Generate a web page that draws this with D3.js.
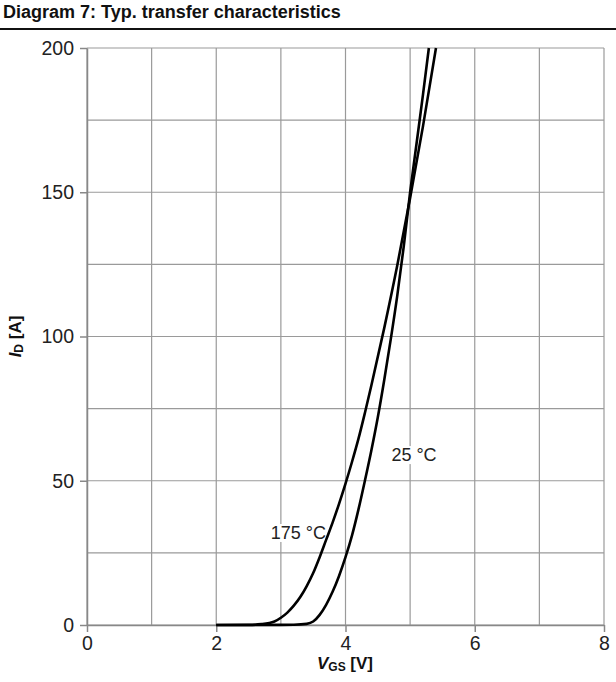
<!DOCTYPE html>
<html>
<head>
<meta charset="utf-8">
<script src="https://cdn.jsdelivr.net/npm/d3@7"></script>
<style>
body { margin: 0; background: #fff; font-family: "Liberation Sans", Arial, sans-serif; }
</style>
</head>
<body>
<script>
// curve values
var vgs25 = [2, 3.0, 3.2, 3.4, 3.5, 3.6, 3.7, 3.8, 3.9, 4.0, 4.1, 4.2, 4.3, 4.4, 4.5, 4.6, 4.7, 4.8, 4.9, 5.0, 5.1, 5.2, 5.29];
var id25 = [0, 0.05, 0.1, 0.4, 1.2, 3.5, 7, 11.5, 17, 23.5, 31, 40, 50, 60.5, 72, 85, 99, 114, 131, 150, 167, 184, 200];
var vgs175 = [2, 2.5, 2.7, 2.9, 3.0, 3.1, 3.2, 3.3, 3.4, 3.5, 3.6, 3.7, 3.8, 3.9, 4.0, 4.1, 4.2, 4.3, 4.4, 4.6, 4.8, 5.0, 5.2, 5.4];
var id175 = [0, 0.05, 0.3, 1.2, 2.5, 4.3, 6.7, 9.7, 13.5, 18, 23.5, 29.5, 35.5, 42, 49, 56.5, 64.5, 73.5, 83, 103, 124.5, 148, 173, 200];
var xTicks = [0, 2, 4, 6, 8];
var yTicks = [0, 50, 100, 150, 200];
var labels = [
	{text: "25 °C", v: 5.06, i: 59},
	{text: "175 °C", v: 3.27, i: 32}
];

var W = 616, H = 682,
padding = {top: 48, right: 12, bottom: 57, left: 87},
w = W - padding.left - padding.right,
h = H - padding.top - padding.bottom;

var xSc = d3.scaleLinear().domain([0, 8]).range([0, w]),
ySc = d3.scaleLinear().domain([0, 200]).range([h, 0]);

var svg = d3.select("body").append("svg")
	.attr("width", W).attr("height", H);

svg.append("text")
	.attr("x", 3).attr("y", 18)
	.attr("font-size", "18px").attr("font-weight", "bold")
	.attr("fill", "#111")
	.text("Diagram 7: Typ. transfer characteristics");

svg.append("line")
	.attr("x1", 0).attr("x2", W)
	.attr("y1", 29).attr("y2", 29)
	.attr("stroke", "#111").attr("stroke-width", 2);

var chart = svg.append("g")
	.attr("transform", "translate(" + padding.left + "," + padding.top + ")");

// grid every 1 V and 25 A
chart.append("g").selectAll("line")
	.data(d3.range(0, 9))
	.enter().append("line")
	.attr("x1", function(d) { return xSc(d); })
	.attr("x2", function(d) { return xSc(d); })
	.attr("y1", 0).attr("y2", h)
	.attr("stroke", "#9a9a9a").attr("stroke-width", 1.2);

chart.append("g").selectAll("line")
	.data(d3.range(0, 201, 25))
	.enter().append("line")
	.attr("y1", function(d) { return ySc(d); })
	.attr("y2", function(d) { return ySc(d); })
	.attr("x1", 0).attr("x2", w)
	.attr("stroke", "#9a9a9a").attr("stroke-width", 1.2);

var xAxis = d3.axisBottom(xSc).tickValues(xTicks).tickSize(7).tickSizeOuter(0).tickPadding(4),
yAxis = d3.axisLeft(ySc).tickValues(yTicks).tickSize(7).tickSizeOuter(0).tickPadding(6);

var gx = chart.append("g")
	.attr("transform", "translate(0," + h + ")")
	.call(xAxis);
var gy = chart.append("g").call(yAxis);

[gx, gy].forEach(function(g) {
	g.select(".domain").attr("stroke", "#888").attr("stroke-width", 1.5);
	g.selectAll(".tick line").attr("stroke", "#888").attr("stroke-width", 1.5);
	g.selectAll(".tick text")
		.attr("font-family", "Liberation Sans, Arial, sans-serif")
		.attr("font-size", "19.5px").attr("fill", "#222");
});

// white boxes behind the curve labels, under the curves
var boxes = chart.append("g");

var line = d3.line().curve(d3.curveMonotoneX)
	.x(function(d) { return xSc(d[0]); })
	.y(function(d) { return ySc(d[1]); });

[[vgs25, id25], [vgs175, id175]].forEach(function(s) {
	chart.append("path")
		.datum(d3.zip(s[0], s[1]))
		.attr("d", line)
		.attr("fill", "none")
		.attr("stroke", "#000")
		.attr("stroke-width", 2.6);
});

labels.forEach(function(l) {
	var t = chart.append("text")
		.attr("x", xSc(l.v)).attr("y", ySc(l.i))
		.attr("text-anchor", "middle")
		.attr("dy", "0.35em")
		.attr("font-size", "18px").attr("fill", "#222")
		.text(l.text);
	var bb = t.node().getBBox();
	boxes.append("rect")
		.attr("x", bb.x - 1).attr("y", bb.y + 1)
		.attr("width", bb.width + 2).attr("height", bb.height - 2)
		.attr("fill", "#fff");
});

// axis titles
var yt = svg.append("text")
	.attr("transform", "translate(21," + (padding.top + h / 2) + ") rotate(-90)")
	.attr("text-anchor", "middle")
	.attr("font-size", "17px").attr("font-weight", "bold").attr("fill", "#111");
yt.append("tspan").attr("font-style", "italic").text("I");
yt.append("tspan").attr("font-size", "12px").attr("dy", "2").text("D");
yt.append("tspan").attr("dy", "-2").text(" [A]");

var xt = svg.append("text")
	.attr("x", 345).attr("y", 669)
	.attr("text-anchor", "middle")
	.attr("font-size", "17px").attr("font-weight", "bold").attr("fill", "#111");
xt.append("tspan").attr("font-style", "italic").text("V");
xt.append("tspan").attr("font-size", "12px").attr("dy", "2").text("GS");
xt.append("tspan").attr("dy", "-2").text(" [V]");
</script>
</body>
</html>
